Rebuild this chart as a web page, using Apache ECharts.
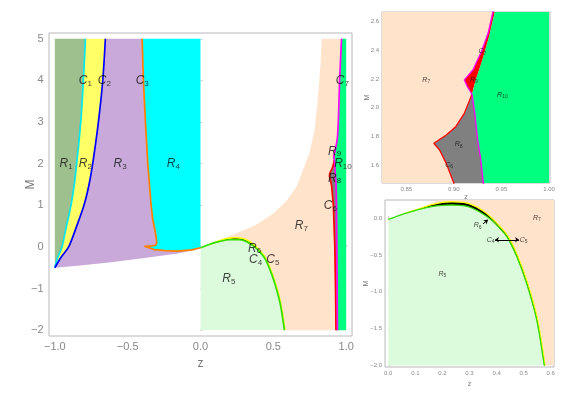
<!DOCTYPE html>
<html>
<head>
<meta charset="utf-8">
<script src="https://cdn.jsdelivr.net/npm/echarts@6/dist/echarts.min.js"></script>
<style>
  html, body { margin: 0; padding: 0; background: #fff; }
  #chart { width: 585px; height: 401px; }
</style>
</head>
<body>
<div id="chart"></div>
<script>
// boundary curves, [z, M]
const c1 = [[-1, -0.5], [-0.98, -0.25], [-0.951, 0], [-0.92, 0.5], [-0.889, 1], [-0.866, 1.5], [-0.85, 2], [-0.822, 3], [-0.804, 4], [-0.79, 5]];
const c2 = [[-1, -0.5], [-0.957, -0.25], [-0.905, 0], [-0.85, 0.5], [-0.8, 1], [-0.765, 1.5], [-0.74, 2], [-0.701, 3], [-0.671, 4], [-0.653, 5]];
const c3 = [[-0.401, 5], [-0.392, 4], [-0.378, 3], [-0.362, 2], [-0.339, 1], [-0.328, 0.66], [-0.309, 0.34], [-0.3, 0.1],
  [-0.308, 0.045], [-0.33, 0.025], [-0.385, 0.015], [-0.316, -0.065], [-0.24, -0.09], [-0.156, -0.1], [-0.06, -0.07], [0, -0.02]];
const purpleBottom = [[-1, -0.5], [-0.843, -0.45], [-0.614, -0.37], [-0.385, -0.265], [-0.156, -0.16], [-0.05, -0.08], [0, -0.02]];
const c4 = [[0, -0.02], [0.06, 0.06], [0.111, 0.115], [0.16, 0.155], [0.2, 0.172], [0.234, 0.176], [0.265, 0.172], [0.295, 0.155],
  [0.326, 0.105], [0.36, 0.03], [0.388, -0.05], [0.437, -0.25], [0.474, -0.52], [0.511, -0.89], [0.548, -1.38], [0.576, -2]];
const c5 = [[0.06, 0.06], [0.111, 0.122], [0.16, 0.18], [0.2, 0.212], [0.234, 0.22], [0.265, 0.215], [0.295, 0.197],
  [0.326, 0.15], [0.36, 0.072], [0.388, -0.02], [0.44, -0.235], [0.477, -0.505], [0.514, -0.875], [0.551, -1.37], [0.579, -2]];
const peachEdge = [[0.111, 0.117], [0.15, 0.18], [0.185, 0.244], [0.268, 0.36], [0.383, 0.53], [0.497, 0.8], [0.589, 1.1],
  [0.66, 1.45], [0.705, 1.86], [0.749, 2.27], [0.784, 2.83], [0.807, 3.63], [0.825, 4.43], [0.832, 5]];
const c6 = [[0.93, -2], [0.927, -1], [0.922, 0], [0.912, 1], [0.9, 1.474], [0.892, 1.612], [0.885, 1.705], [0.879, 1.752],
  [0.892, 1.81], [0.902, 1.868], [0.911, 1.961], [0.916, 2.043], [0.919, 2.094]];
const c7lo = [[0.94, -2], [0.938, -1], [0.936, 0], [0.934, 1], [0.931, 1.474], [0.928, 1.65], [0.925, 1.775], [0.922, 1.961], [0.919, 2.094]];
const c7hi = [[0.919, 2.094], [0.914, 2.15], [0.911, 2.194], [0.92, 2.264], [0.929, 2.392], [0.936, 2.521], [0.941, 2.668],
  [0.946, 3], [0.955, 4], [0.968, 5]];
const greenEdge = [[0.919, 2.094], [0.923, 2.194], [0.93, 2.334], [0.937, 2.497], [0.943, 2.668], [0.949, 3], [0.958, 4], [0.972, 5]];

// tick labels
const mainXTicks = [-1, -0.5, 0, 0.5, 1];
const mainYTicks = [-2, -1, 0, 1, 2, 3, 4, 5];
const topXTicks = [0.85, 0.9, 0.95, 1.0];
const topYTicks = [1.6, 1.8, 2.0, 2.2, 2.4, 2.6];
const botXTicks = [0, 0.1, 0.2, 0.3, 0.4, 0.5, 0.6];
const botYTicks = [-2, -1.5, -1, -0.5, 0];

// region / curve names shown on the plots: [letter, index, z, M]
const mainLabels = [
  ['C', '1', -0.79, 4], ['C', '2', -0.66, 4], ['C', '3', -0.40, 4], ['C', '7', 0.974, 4],
  ['R', '1', -0.923, 2], ['R', '2', -0.79, 2], ['R', '3', -0.552, 2], ['R', '4', -0.186, 2],
  ['R', '9', 0.921, 2.3], ['R', '10', 0.978, 2.0], ['R', '8', 0.921, 1.65], ['C', '6', 0.891, 1.0],
  ['R', '7', 0.692, 0.5], ['R', '6', 0.371, -0.03], ['C', '4', 0.378, -0.31], ['C', '5', 0.497, -0.31], ['R', '5', 0.195, -0.77]
];
const topLabels = [['R', '7', 0.871, 2.194], ['R', '9', 0.921, 2.194], ['C', '7', 0.930, 2.395], ['R', '10', 0.951, 2.09],
  ['R', '8', 0.905, 1.745], ['C', '6', 0.895, 1.6]];
const botLabels = [['R', '7', 0.549, 0.0], ['R', '6', 0.33, -0.1], ['C', '4', 0.378, -0.294], ['C', '5', 0.5, -0.294], ['R', '5', 0.2, -0.756]];
const botArrows = [[[0.35, -0.08], [0.368, -0.025]], [[0.445, -0.295], [0.394, -0.295]], [[0.445, -0.295], [0.483, -0.295]]];

const rev = a => a.slice().reverse();

// left: only in the full plot (z < 0)
const regions = [
  { pts: [[-1, 5], ...c1], color: '#9ebf8e', left: true },
  { pts: [...c1, ...rev(c2)], color: '#ffff66', left: true },
  { pts: [...c2, ...c3, ...rev(purpleBottom)], color: '#c9a9da', left: true },
  { pts: [...c3, [0, 5]], color: '#00ffff', left: true },
  { pts: [...rev(c5), ...peachEdge, [0.97, 5], [0.94, -2]], color: '#ffe3cb' },
  { pts: [...c4, ...rev(c5)], color: '#000000' },
  { pts: [[0, -2], ...c4], color: '#dcfadc' },
  { pts: [...c6, ...rev(c7lo)], color: '#808080' },
  { pts: [...c7hi, ...rev(greenEdge)], color: '#ff0000' },
  { pts: [...c7lo, ...greenEdge, [1, 5], [1, -2]], color: '#00ff7f' }
];
const curves = [
  { pts: c1, color: '#00e8f0', smooth: 0.3, left: true },
  { pts: c2, color: '#0000ff', smooth: 0.3, left: true },
  { pts: c3, color: '#ff8000', smooth: 0, left: true },
  { pts: c5, color: '#ffff00', smooth: 0.3 },
  { pts: c4, color: '#33dd00', smooth: 0.3 },
  { pts: c6, color: '#ff0000', smooth: 0 },
  { pts: c7lo, color: '#ff00ff', smooth: 0 },
  { pts: c7hi, color: '#ff00ff', smooth: 0 }
];

const fmt = (v, d) => v.toFixed(d).replace('-', '\u2212');

const grids = [
  { left: 49, top: 33, width: 303, height: 303, x: [-1.04, 1.04], y: [-2.14, 5.14], xt: mainXTicks, yt: mainYTicks, xd: 1, yd: 0, fs: 11, lf: 12, sf: 8, xg: 22, yg: 12, lw: 1.7, labels: mainLabels, all: true },
  { left: 382, top: 12, width: 168, height: 171, x: [0.8245, 1.001], y: [1.475, 2.668], xt: topXTicks, yt: topYTicks, xd: 2, yd: 1, fs: 6, lf: 7, sf: 5, xg: 11, yg: 11, lw: 1.3, labels: topLabels },
  { left: 385, top: 200, width: 169, height: 167, x: [-0.012, 0.612], y: [-2.02, 0.244], xt: botXTicks, yt: botYTicks, xd: 1, yd: 1, fs: 6, lf: 7, sf: 5, xg: 14, yg: 15, lw: 1.3, labels: botLabels }
];

const series = [];
grids.forEach((g, gi) => {
  regions.filter(r => g.all || !r.left).forEach(r => {
    series.push({
      type: 'custom', xAxisIndex: gi, yAxisIndex: gi, clip: true, silent: true, z: 1,
      data: [[g.x[0], g.y[0]]],
      renderItem: (params, api) => ({
        type: 'polygon',
        shape: { points: r.pts.map(p => api.coord(p)) },
        style: { fill: r.color }
      })
    });
  });
  curves.filter(c => g.all || !c.left).forEach(c => {
    series.push({
      type: 'line', xAxisIndex: gi, yAxisIndex: gi, data: c.pts, showSymbol: false, clip: true, silent: true, z: 2,
      smooth: c.smooth, lineStyle: { color: c.color, width: g.lw }
    });
  });
  series.push({
    type: 'scatter', xAxisIndex: gi, yAxisIndex: gi, symbolSize: 1, silent: true, z: 4,
    itemStyle: { color: 'rgba(0,0,0,0)' },
    data: g.labels.map(l => ({ value: [l[2], l[3]], name: l[0], sub: l[1] })),
    label: {
      show: true, position: 'inside',
      formatter: p => '{m|' + p.data.name + '}{s|' + p.data.sub + '}',
      rich: {
        m: { fontSize: g.lf, fontStyle: 'italic', fontFamily: 'Liberation Sans', color: '#111' },
        s: { fontSize: g.sf, fontFamily: 'Liberation Sans', color: '#111', padding: [Math.round(g.lf * 0.5), 0, 0, 0] }
      }
    }
  });
});
series.push({
  type: 'lines', coordinateSystem: 'cartesian2d', xAxisIndex: 2, yAxisIndex: 2, z: 5, silent: true,
  symbol: ['none', 'arrow'], symbolSize: 4,
  lineStyle: { color: '#000', width: 1, opacity: 1 },
  data: botArrows.map(a => ({ coords: a }))
});

const option = {
  animation: false,
  grid: grids.map(g => ({ left: g.left, top: g.top, width: g.width, height: g.height, show: true, borderColor: '#b8b8b8', borderWidth: 1, backgroundColor: 'transparent' })),
  xAxis: grids.map((g, gi) => ({
    gridIndex: gi, type: 'value', min: g.x[0], max: g.x[1],
    name: 'z', nameLocation: 'middle', nameGap: g.xg, nameMoveOverlap: false, nameTextStyle: { color: '#777', fontSize: g.fs + 1 },
    axisLine: { show: false }, splitLine: { show: false },
    axisTick: { show: true, inside: true, length: 2, customValues: g.xt, lineStyle: { color: '#ccc' } },
    axisLabel: { show: true, customValues: g.xt, color: '#888', fontSize: g.fs, margin: g.fs * 0.5, formatter: v => fmt(v, g.xd) }
  })),
  yAxis: grids.map((g, gi) => ({
    gridIndex: gi, type: 'value', min: g.y[0], max: g.y[1],
    name: 'M', nameLocation: 'middle', nameGap: g.yg, nameRotate: 90, nameMoveOverlap: false, nameTextStyle: { color: '#777', fontSize: g.fs + 1 },
    axisLine: { show: false }, splitLine: { show: false },
    axisTick: { show: true, inside: true, length: 2, customValues: g.yt, lineStyle: { color: '#ccc' } },
    axisLabel: { show: true, customValues: g.yt, color: '#888', fontSize: g.fs, margin: g.fs * 0.5, formatter: v => fmt(v, g.yd) }
  })),
  series: series
};

const chart = echarts.init(document.getElementById('chart'));
chart.setOption(option);
</script>
</body>
</html>
